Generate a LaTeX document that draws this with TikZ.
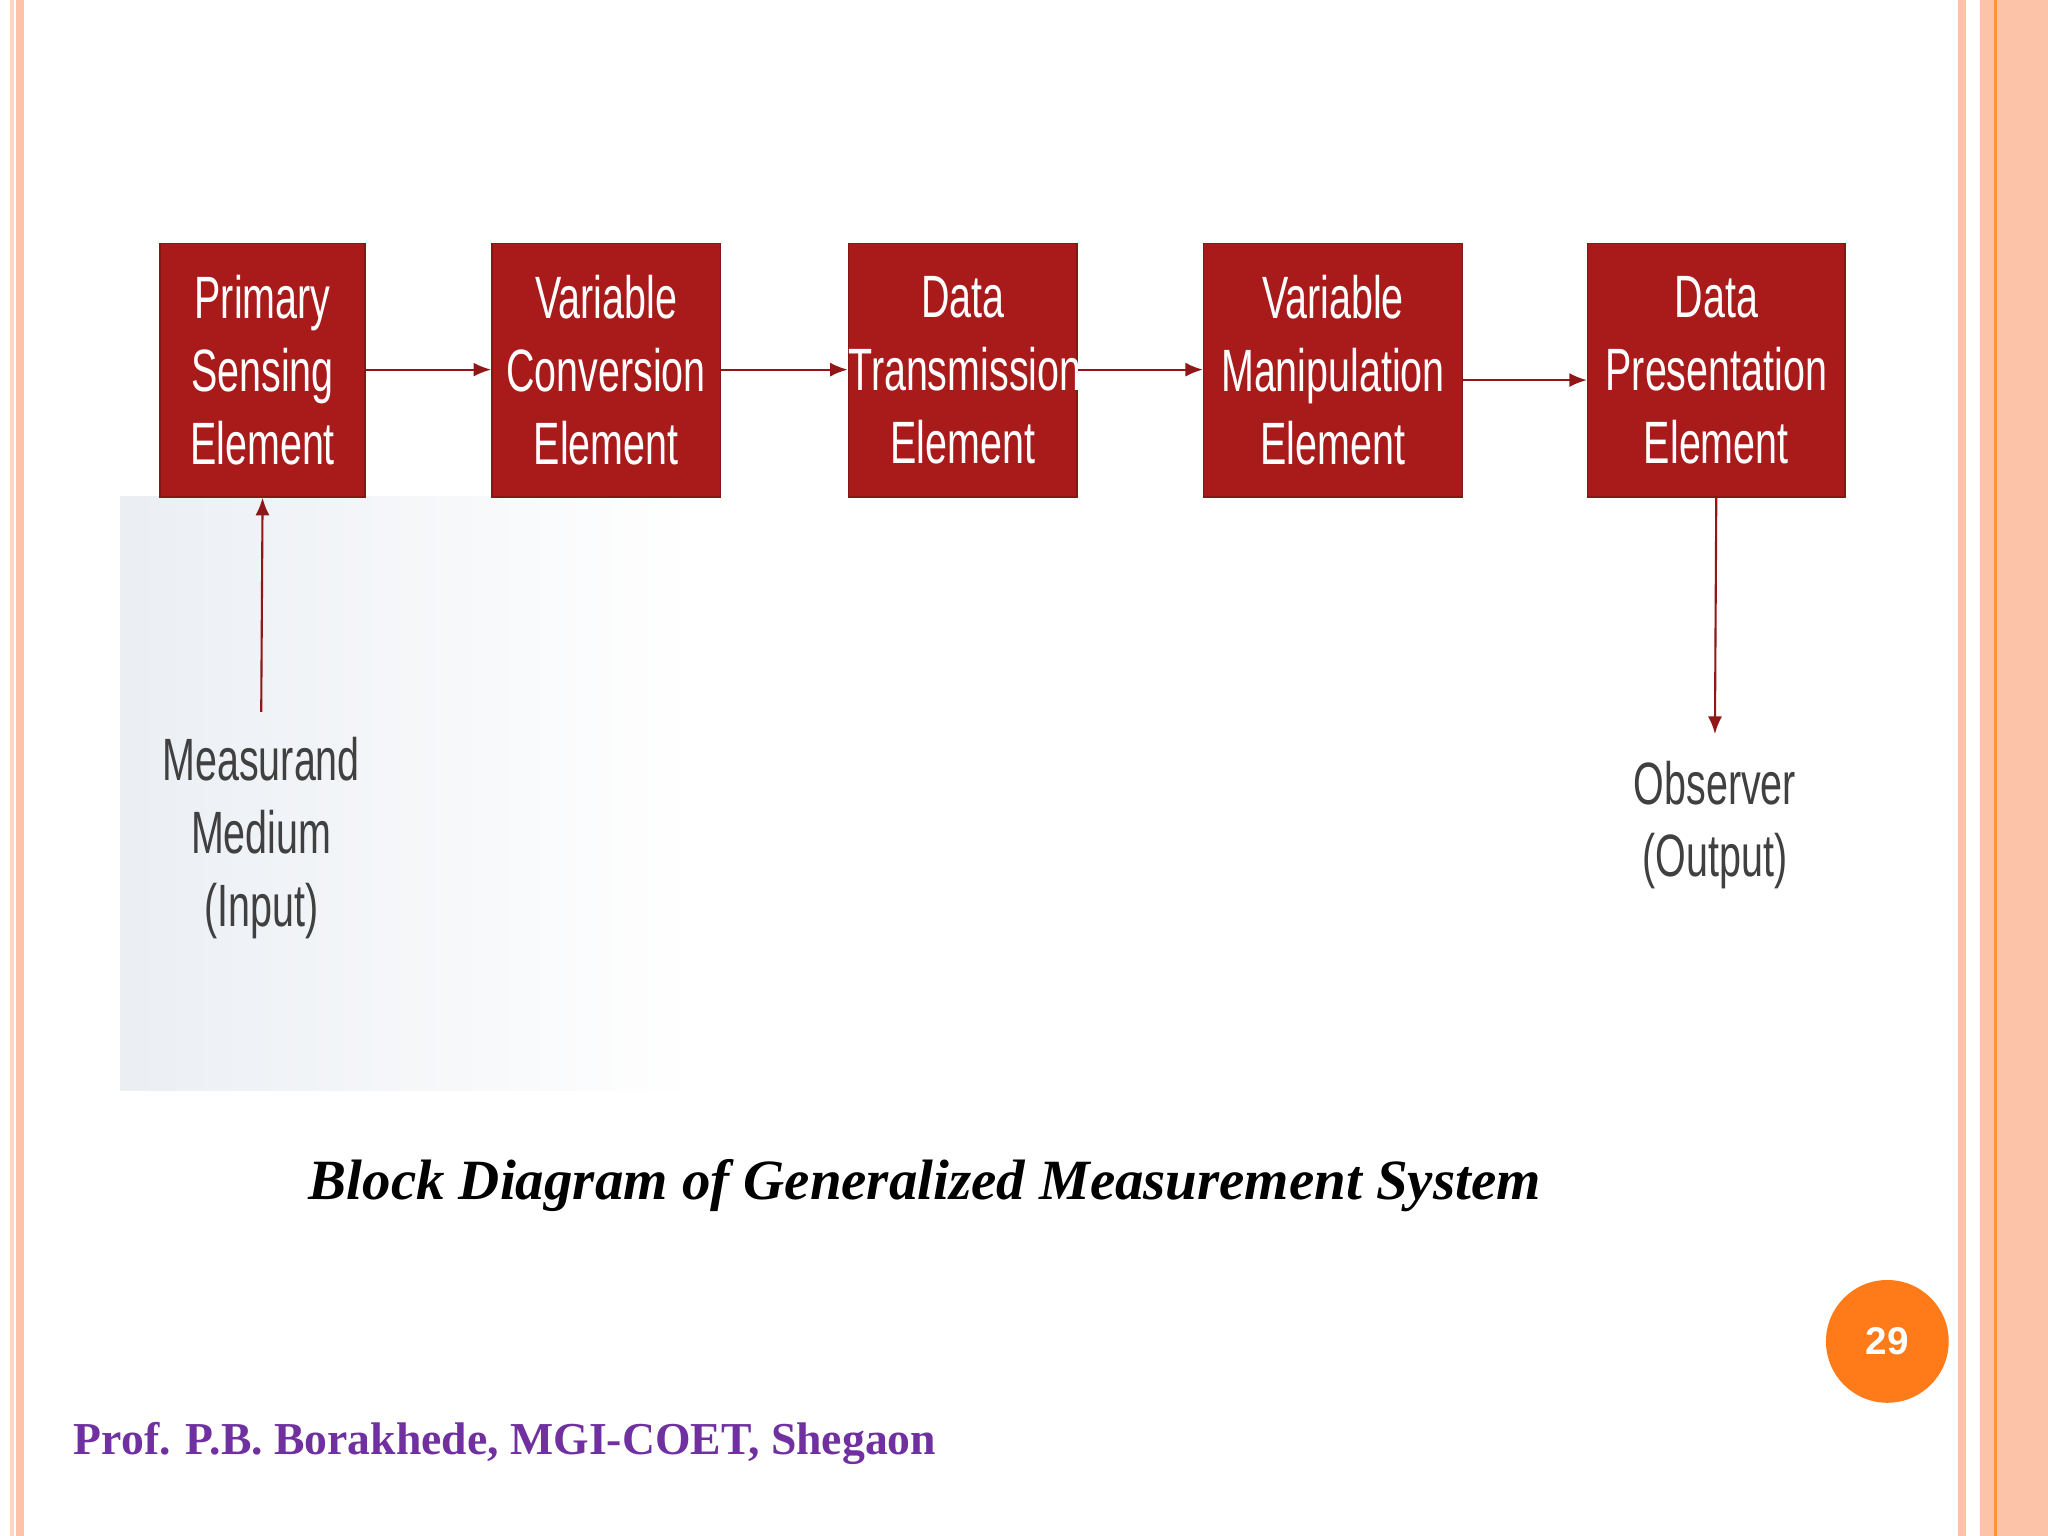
\documentclass[tikz,border=0pt]{standalone}
\usepackage{fontspec}
\setmainfont{Liberation Serif}
\newfontfamily\cond[FakeStretch=0.66]{Liberation Sans}
\newfontfamily\sans{Liberation Sans}
\usetikzlibrary{arrows.meta,fadings}
\definecolor{boxred}{HTML}{A91B1B}
\definecolor{salmon}{HTML}{FDC3A9}
\definecolor{purp}{HTML}{7030A0}
\definecolor{bgb}{HTML}{EBEFF4}
\begin{document}
\begin{tikzpicture}[x=0.01306cm,y=-0.01306cm,
  blk/.style={fill=boxred,draw=boxred!80!black,minimum height=194*0.01306cm,text=white,font=\cond\fontsize{17}{20.7}\selectfont,align=center,inner sep=0pt,anchor=north west},
  lbl/.style={text=black!75,font=\cond\fontsize{17}{20.7}\selectfont,align=center},
  arr/.style={draw=boxred!85!black,line width=0.6pt,-{Latex[length=5pt,width=4pt]}}]
\useasboundingbox (0,0) rectangle (1568,1176);
\fill[white] (0,0) rectangle (1568,1176);
% stripes
\fill[salmon!70] (7.7,0) rectangle (10.7,1176);
\fill[salmon] (12.3,0) rectangle (18.4,1176);
\fill[salmon] (1499,0) rectangle (1505,1176);
\fill[salmon] (1516,0) rectangle (1568,1176);
\fill[orange!70!salmon] (1527,0) rectangle (1529,1176);
% background shading
\fill[bgb,path fading=east] (92,380) rectangle (520,835);
% boxes
\node[blk,minimum width=157*0.01306cm,text width=157*0.01306cm] (b1) at (122,186) {Primary\\Sensing\\Element};
\node[blk,minimum width=175*0.01306cm,text width=175*0.01306cm] (b2) at (376,186) {Variable\\Conversion\\Element};
\node[blk,minimum width=175*0.01306cm,text width=175*0.01306cm] (b3) at (649,186) {Data\\Transmission\\Element};
\node[blk,minimum width=198*0.01306cm,text width=198*0.01306cm] (b4) at (921,186) {Variable\\Manipulation\\Element};
\node[blk,minimum width=197*0.01306cm,text width=197*0.01306cm] (b5) at (1215,186) {Data\\Presentation\\Element};
\node[lbl,anchor=north] (in) at (200,555) {Measurand\\Medium\\(Input)};
\node[lbl,anchor=north] (out) at (1313,573) {Observer\\(Output)};
\coordinate (ins) at (200,545);
\coordinate (oute) at (1313,562);
\draw[arr] (b1.east |- 0,283) -- (b2.west |- 0,283);
\draw[arr] (b2.east |- 0,283) -- (b3.west |- 0,283);
\draw[arr] (b3.east |- 0,283) -- (b4.west |- 0,283);
\draw[arr] (b4.east |- 0,291) -- (b5.west |- 0,291);
\draw[arr] (ins) -- (b1.south);
\draw[arr] (b5.south) -- (oute);
\node[font=\fontsize{16.2}{19}\selectfont\bfseries\itshape] (cap) at (708,908) {Block Diagram of Generalized Measurement System};
\node[circle,fill=orange!85!red!90,minimum size=94*0.01306cm,inner sep=0pt,text=white,font=\sans\bfseries\fontsize{11}{13}\selectfont] (pg) at (1445,1027) {29};
\node[anchor=west,text=purp,font=\bfseries\fontsize{13}{15}\selectfont,inner sep=0pt] (ft) at (56,1105) {Prof. P.B. Borakhede, MGI-COET, Shegaon};
\end{tikzpicture}
\end{document}
